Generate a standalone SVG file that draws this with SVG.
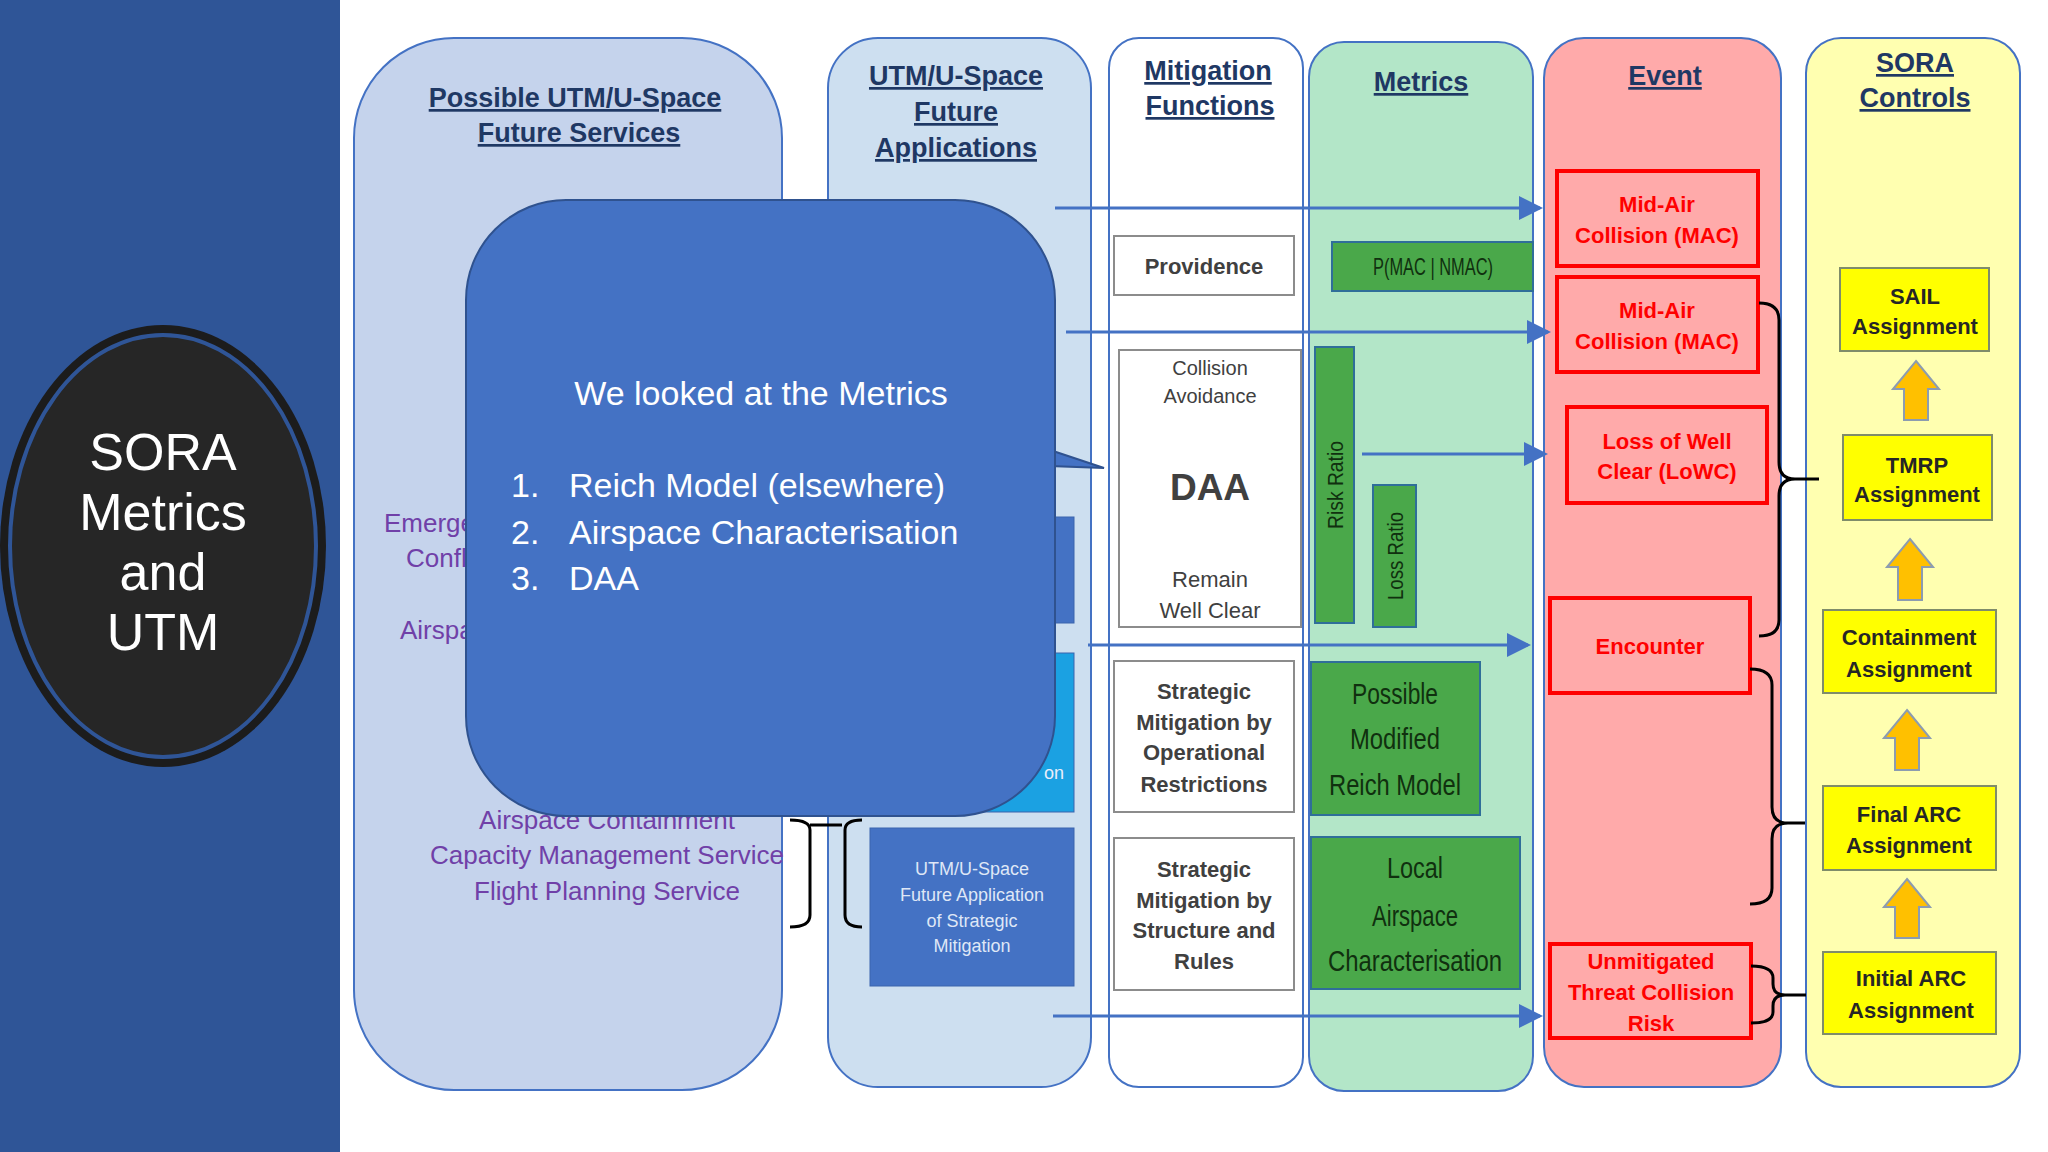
<svg xmlns="http://www.w3.org/2000/svg" width="2048" height="1152" viewBox="0 0 2048 1152">
<defs>
<style>
text{font-family:"Liberation Sans",Arial,sans-serif}
.col{stroke:#4472c4;stroke-width:2}
.ttl{font-weight:bold;font-size:27px;fill:#1f3864;text-anchor:middle;text-decoration:underline}
.pur{font-size:26px;fill:#7040a8;text-anchor:middle}
.purs{font-size:26px;fill:#7040a8;text-anchor:start}
.mit{fill:#fff;stroke:#8c8c8c;stroke-width:2}
.mt{font-size:22px;fill:#404040;text-anchor:middle;font-weight:bold}
.gr{fill:#4aa84a;stroke:#2f6e99;stroke-width:2}
.gt{font-size:30px;fill:#10300f;text-anchor:middle}
.ev{fill:#ffaaaa;stroke:#ff0000;stroke-width:4}
.et{font-size:22px;fill:#ff0000;text-anchor:middle;font-weight:bold}
.yl{fill:#ffff00;stroke:#7f8c6a;stroke-width:2}
.yt{font-size:22px;fill:#262626;text-anchor:middle;font-weight:bold}
.ar{stroke:#4472c4;stroke-width:3;fill:none;marker-end:url(#ah)}
.br{stroke:#000;stroke-width:3;fill:none}
.up{fill:#ffc000;stroke:#8c9cb0;stroke-width:2}
</style>
<marker id="ah" markerWidth="8" markerHeight="8" refX="7" refY="4" orient="auto" markerUnits="strokeWidth"><path d="M0,0L8,4L0,8z" fill="#4472c4"/></marker>
</defs>
<rect x="0" y="0" width="2048" height="1152" fill="#fff"/>
<g id="left-panel">
<rect x="0" y="0" width="340" height="1152" fill="#2f5597"/>
<ellipse cx="163" cy="546" rx="163" ry="221" fill="#1c1c1c"/>
<ellipse cx="163" cy="546" rx="153" ry="211" fill="#262626" stroke="#2f5597" stroke-width="4"/>
<text x="163" y="470" font-size="52" fill="#fff" text-anchor="middle">SORA</text>
<text x="163" y="530" font-size="52" fill="#fff" text-anchor="middle">Metrics</text>
<text x="163" y="590" font-size="52" fill="#fff" text-anchor="middle">and</text>
<text x="163" y="650" font-size="52" fill="#fff" text-anchor="middle">UTM</text>
</g>
<g id="col-services">
<rect class="col" x="354" y="38" width="428" height="1052" rx="100" fill="#c5d3ec"/>
<text class="ttl" x="575" y="107">Possible UTM/U-Space</text>
<text class="ttl" x="579" y="142">Future Services</text>
<text class="purs" x="384" y="532">Emerge</text>
<text class="purs" x="406" y="567">Confl</text>
<text class="purs" x="400" y="639">Airspa</text>
<text class="pur" x="607" y="829">Airspace Containment</text>
<text class="pur" x="607" y="864">Capacity Management Service</text>
<text class="pur" x="607" y="900">Flight Planning Service</text>
</g>
<g id="col-apps">
<rect class="col" x="828" y="38" width="263" height="1049" rx="50" fill="#cddff0"/>
<text class="ttl" x="956" y="85">UTM/U-Space</text>
<text class="ttl" x="956" y="121">Future</text>
<text class="ttl" x="956" y="157">Applications</text>
<rect x="870" y="517" width="204" height="106" fill="#4472c4" stroke="#3a64ad"/>
<rect x="870" y="653" width="204" height="159" fill="#1ba1e2" stroke="#3a64ad"/>
<text x="1064" y="779" font-size="18" fill="#e8eefa" text-anchor="end">on</text>
<rect x="870" y="828" width="204" height="158" fill="#4472c4" stroke="#3a64ad"/>
<text x="972" y="875" font-size="18" fill="#dfe7f6" text-anchor="middle">UTM/U-Space</text>
<text x="972" y="901" font-size="18" fill="#dfe7f6" text-anchor="middle">Future Application</text>
<text x="972" y="927" font-size="18" fill="#dfe7f6" text-anchor="middle">of Strategic</text>
<text x="972" y="952" font-size="18" fill="#dfe7f6" text-anchor="middle">Mitigation</text>
</g>
<g id="col-mitigation">
<rect class="col" x="1109" y="38" width="194" height="1049" rx="30" fill="#fff"/>
<text class="ttl" x="1208" y="80">Mitigation</text>
<text class="ttl" x="1210" y="115">Functions</text>
<rect class="mit" x="1114" y="236" width="180" height="59"/>
<text class="mt" x="1204" y="274">Providence</text>
<rect class="mit" x="1119" y="350" width="182" height="277"/>
<text x="1210" y="375" font-size="20" fill="#404040" text-anchor="middle">Collision</text>
<text x="1210" y="403" font-size="20" fill="#404040" text-anchor="middle">Avoidance</text>
<text x="1210" y="500" font-size="37" fill="#404040" text-anchor="middle" font-weight="bold">DAA</text>
<text x="1210" y="587" font-size="22" fill="#404040" text-anchor="middle">Remain</text>
<text x="1210" y="618" font-size="22" fill="#404040" text-anchor="middle">Well Clear</text>
<rect class="mit" x="1114" y="661" width="180" height="151"/>
<text class="mt" x="1204" y="699">Strategic</text>
<text class="mt" x="1204" y="730">Mitigation by</text>
<text class="mt" x="1204" y="760">Operational</text>
<text class="mt" x="1204" y="792">Restrictions</text>
<rect class="mit" x="1114" y="838" width="180" height="152"/>
<text class="mt" x="1204" y="877">Strategic</text>
<text class="mt" x="1204" y="908">Mitigation by</text>
<text class="mt" x="1204" y="938">Structure and</text>
<text class="mt" x="1204" y="969">Rules</text>
</g>
<g id="col-metrics">
<rect class="col" x="1309" y="42" width="224" height="1049" rx="35" fill="#b3e6c8"/>
<text class="ttl" x="1421" y="91">Metrics</text>
<rect class="gr" x="1332" y="242" width="201" height="49"/>
<text x="1433" y="275" font-size="24" fill="#10300f" text-anchor="middle" textLength="120" lengthAdjust="spacingAndGlyphs">P(MAC | NMAC)</text>
<rect class="gr" x="1315" y="347" width="39" height="276"/>
<text transform="translate(1343,485) rotate(-90)" font-size="22" fill="#10300f" text-anchor="middle" textLength="88" lengthAdjust="spacingAndGlyphs">Risk  Ratio</text>
<rect class="gr" x="1373" y="485" width="43" height="142"/>
<text transform="translate(1403,556) rotate(-90)" font-size="22" fill="#10300f" text-anchor="middle" textLength="88" lengthAdjust="spacingAndGlyphs">Loss  Ratio</text>
<rect class="gr" x="1311" y="662" width="169" height="153"/>
<text class="gt" x="1395" y="704" textLength="86" lengthAdjust="spacingAndGlyphs">Possible</text>
<text class="gt" x="1395" y="749" textLength="90" lengthAdjust="spacingAndGlyphs">Modified</text>
<text class="gt" x="1395" y="795" textLength="132" lengthAdjust="spacingAndGlyphs">Reich  Model</text>
<rect class="gr" x="1311" y="837" width="209" height="152"/>
<text class="gt" x="1415" y="878" textLength="56" lengthAdjust="spacingAndGlyphs">Local</text>
<text class="gt" x="1415" y="926" textLength="86" lengthAdjust="spacingAndGlyphs">Airspace</text>
<text class="gt" x="1415" y="971" textLength="174" lengthAdjust="spacingAndGlyphs">Characterisation</text>
</g>
<g id="col-event">
<rect class="col" x="1544" y="38" width="237" height="1049" rx="40" fill="#ffaaaa"/>
<text class="ttl" x="1665" y="85">Event</text>
<rect class="ev" x="1557" y="171" width="201" height="95"/>
<text class="et" x="1657" y="212">Mid-Air</text>
<text class="et" x="1657" y="243">Collision (MAC)</text>
<rect class="ev" x="1557" y="277" width="201" height="95"/>
<text class="et" x="1657" y="318">Mid-Air</text>
<text class="et" x="1657" y="349">Collision (MAC)</text>
<rect class="ev" x="1567" y="407" width="200" height="96"/>
<text class="et" x="1667" y="449">Loss of Well</text>
<text class="et" x="1667" y="479">Clear (LoWC)</text>
<rect class="ev" x="1550" y="598" width="200" height="95"/>
<text class="et" x="1650" y="654">Encounter</text>
<rect class="ev" x="1550" y="944" width="201" height="94"/>
<text class="et" x="1651" y="969">Unmitigated</text>
<text class="et" x="1651" y="1000">Threat Collision</text>
<text class="et" x="1651" y="1031">Risk</text>
</g>
<g id="col-sora">
<rect class="col" x="1806" y="38" width="214" height="1049" rx="35" fill="#ffffb0"/>
<text class="ttl" x="1915" y="72">SORA</text>
<text class="ttl" x="1915" y="107">Controls</text>
<rect class="yl" x="1840" y="268" width="149" height="83"/>
<text class="yt" x="1915" y="304">SAIL</text>
<text class="yt" x="1915" y="334">Assignment</text>
<rect class="yl" x="1843" y="435" width="149" height="85"/>
<text class="yt" x="1917" y="473">TMRP</text>
<text class="yt" x="1917" y="502">Assignment</text>
<rect class="yl" x="1823" y="610" width="173" height="83"/>
<text class="yt" x="1909" y="645">Containment</text>
<text class="yt" x="1909" y="677">Assignment</text>
<rect class="yl" x="1823" y="786" width="173" height="84"/>
<text class="yt" x="1909" y="822">Final ARC</text>
<text class="yt" x="1909" y="853">Assignment</text>
<rect class="yl" x="1823" y="952" width="173" height="82"/>
<text class="yt" x="1911" y="986">Initial ARC</text>
<text class="yt" x="1911" y="1018">Assignment</text>
<path class="up" d="M1916,361 L1939,389 L1928,389 L1928,420 L1904,420 L1904,389 L1893,389Z"/>
<path class="up" d="M1910,539 L1933,567 L1922,567 L1922,600 L1898,600 L1898,567 L1887,567Z"/>
<path class="up" d="M1907,710 L1930,738 L1919,738 L1919,770 L1895,770 L1895,738 L1884,738Z"/>
<path class="up" d="M1907,879 L1930,907 L1919,907 L1919,938 L1895,938 L1895,907 L1884,907Z"/>
</g>
<g id="connectors">
<path class="ar" d="M1055,208 H1540"/>
<path class="ar" d="M1066,332 H1548"/>
<path class="ar" d="M1362,454 H1545"/>
<path class="ar" d="M1088,645 H1528"/>
<path class="ar" d="M1053,1016 H1540"/>
<path class="br" d="M1759,303 Q1779,303 1779,320 V462 Q1779,479 1795,479 Q1779,479 1779,496 V620 Q1779,636 1759,636"/>
<path class="br" d="M1795,479 H1819"/>
<path class="br" d="M1750,669 Q1772,669 1772,685 V807 Q1772,823 1788,823 Q1772,823 1772,839 V888 Q1772,904 1750,904"/>
<path class="br" d="M1788,823 H1805"/>
<path class="br" d="M1751,966 Q1773,966 1773,978 V984 Q1773,995 1785,995 Q1773,995 1773,1006 V1012 Q1773,1023 1751,1023"/>
<path class="br" d="M1785,995 H1806"/>
<path class="br" d="M790,820 Q810,820 810,830 V915 Q810,927 790,927"/>
<path class="br" d="M810,825 H842"/>
<path class="br" d="M862,820 Q845,820 845,830 V915 Q845,927 862,927"/>
</g>
<g id="overlay">
<path d="M1050,450 L1104,468 L1050,466Z" fill="#4472c4" stroke="#2f528f" stroke-width="2"/>
<rect x="466" y="200" width="589" height="616" rx="100" fill="#4472c4" stroke="#2f528f" stroke-width="2"/>
<text x="761" y="405" font-size="34" fill="#fff" text-anchor="middle">We looked at the Metrics</text>
<text x="511" y="497" font-size="34" fill="#fff">1.</text>
<text x="569" y="497" font-size="34" fill="#fff">Reich Model  (elsewhere)</text>
<text x="511" y="544" font-size="34" fill="#fff">2.</text>
<text x="569" y="544" font-size="34" fill="#fff">Airspace Characterisation</text>
<text x="511" y="590" font-size="34" fill="#fff">3.</text>
<text x="569" y="590" font-size="34" fill="#fff">DAA</text>
</g>
</svg>
